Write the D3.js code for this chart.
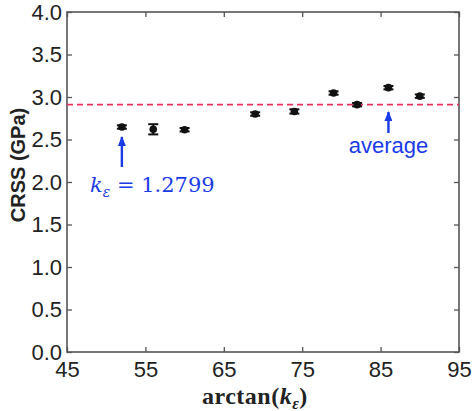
<!DOCTYPE html>
<html>
<head>
<meta charset="utf-8">
<script src="https://cdn.jsdelivr.net/npm/d3@7"></script>
<style>
  body { margin: 0; background: #fff; }
  svg text { font-family: "Liberation Sans", Arial, sans-serif; }
</style>
</head>
<body>
<div id="chart"></div>
<script>
// data
var angles = [52, 56, 60, 69, 74, 79, 82, 86, 90];
var crss = [2.647, 2.62, 2.615, 2.80, 2.83, 3.047, 2.91, 3.11, 3.01];
var errs = [0.02, 0.06, 0.02, 0.02, 0.025, 0.02, 0.02, 0.02, 0.02];
var average = 2.91;
var xTicks = [45, 55, 65, 75, 85, 95];
var yTicks = [0, 0.5, 1, 1.5, 2, 2.5, 3, 3.5, 4];

var svg = d3.select("#chart").append("svg").attr("width", 474).attr("height", 411);

var margin = { left: 67, top: 12, right: 15, bottom: 59 };
var width = 474 - margin.left - margin.right;
var height = 411 - margin.top - margin.bottom;

var chart = svg.append("g").attr("transform", "translate(" + margin.left + "," + margin.top + ")");

var x = d3.scaleLinear().domain([45, 95]).range([0, width]);
var y = d3.scaleLinear().domain([0, 4]).range([height, 0]);

var frameColor = "#555";

// axes, ticks pointing inward
var xAxis = chart.append("g")
    .attr("transform", "translate(0," + height + ")")
    .call(d3.axisBottom(x).tickValues(xTicks).tickSize(-5).tickPadding(9).tickFormat(d3.format("d")));
var yAxis = chart.append("g")
    .call(d3.axisLeft(y).tickValues(yTicks).tickSize(-5).tickPadding(5).tickFormat(d3.format(".1f")));
chart.append("g")
    .call(d3.axisTop(x).tickValues(xTicks).tickSize(-5).tickFormat(""));
chart.append("g")
    .attr("transform", "translate(" + width + ",0)")
    .call(d3.axisRight(y).tickValues(yTicks).tickSize(-5).tickFormat(""));

chart.selectAll(".domain").remove();
chart.selectAll(".tick line").attr("stroke", frameColor).attr("stroke-width", 1.3);
chart.selectAll(".tick text")
    .attr("fill", "#222")
    .style("font-size", "22px")
    .style("font-family", "'Liberation Sans', Arial, sans-serif");
xAxis.selectAll(".tick text").attr("dy", "0.71em");

chart.append("rect")
    .attr("width", width).attr("height", height)
    .attr("fill", "none").attr("stroke", frameColor).attr("stroke-width", 1.6);

// average line
chart.append("line")
    .attr("x1", 0).attr("x2", width)
    .attr("y1", y(average)).attr("y2", y(average))
    .attr("stroke", "#e8335e").attr("stroke-width", 1.6)
    .attr("stroke-dasharray", "6,4");

// error bars and points
var pts = chart.selectAll(".pt").data(angles).enter().append("g").attr("class", "pt");
pts.append("line")
    .attr("x1", d => x(d)).attr("x2", d => x(d))
    .attr("y1", (d, i) => y(crss[i] + errs[i])).attr("y2", (d, i) => y(crss[i] - errs[i]))
    .attr("stroke", "#111").attr("stroke-width", 2);
[1, -1].forEach(function (s) {
  pts.append("line")
      .attr("x1", d => x(d) - 5).attr("x2", d => x(d) + 5)
      .attr("y1", (d, i) => y(crss[i] + s * errs[i])).attr("y2", (d, i) => y(crss[i] + s * errs[i]))
      .attr("stroke", "#111").attr("stroke-width", 2);
});
pts.append("circle")
    .attr("cx", d => x(d)).attr("cy", (d, i) => y(crss[i]))
    .attr("r", 3.8).attr("fill", "#111");

// annotations
var blue = "#1a3be8";
svg.append("defs").append("marker")
    .attr("id", "head").attr("viewBox", "0 0 10 8")
    .attr("refX", 9).attr("refY", 4)
    .attr("markerWidth", 10).attr("markerHeight", 8)
    .attr("markerUnits", "userSpaceOnUse")
    .attr("orient", "auto")
    .append("path").attr("d", "M0,0 L10,4 L0,8 Z").attr("fill", blue);

function arrow(xv, yTop, yBottom) {
  chart.append("line")
      .attr("x1", x(xv)).attr("x2", x(xv))
      .attr("y1", yBottom).attr("y2", yTop)
      .attr("stroke", blue).attr("stroke-width", 2.4)
      .attr("marker-end", "url(#head)");
}
arrow(52, 125, 155);
arrow(86, 100, 121);

var kText = chart.append("text")
    .attr("x", 23).attr("y", 180)
    .attr("fill", blue)
    .style("font-family", "'DejaVu Serif', 'Liberation Serif', serif")
    .style("font-size", "21px");
kText.append("tspan").style("font-style", "italic").text("k");
kText.append("tspan").style("font-style", "italic").style("font-size", "14px").attr("dy", 5).text("ε");
kText.append("tspan").attr("dy", -5).text(" = 1.2799");

chart.append("text")
    .attr("x", x(86)).attr("y", 141)
    .attr("text-anchor", "middle")
    .attr("fill", blue)
    .style("font-size", "22px")
    .text("average");

// axis titles
svg.append("text")
    .attr("transform", "translate(25,165) rotate(-90)")
    .attr("text-anchor", "middle")
    .attr("fill", "#222")
    .style("font-size", "20px").style("font-weight", "bold")
    .text("CRSS (GPa)");

var xt = svg.append("text")
    .attr("x", 202).attr("y", 404)
    .attr("fill", "#222")
    .style("font-family", "'Liberation Serif', 'DejaVu Serif', serif")
    .style("font-size", "24px").style("font-weight", "bold")
    .style("letter-spacing", "0.5px");
xt.append("tspan").text("arctan(");
xt.append("tspan").style("font-style", "italic").text("k");
xt.append("tspan").style("font-style", "italic").style("font-size", "16px").attr("dy", 5).text("ε");
xt.append("tspan").attr("dy", -5).text(")");
</script>
</body>
</html>
